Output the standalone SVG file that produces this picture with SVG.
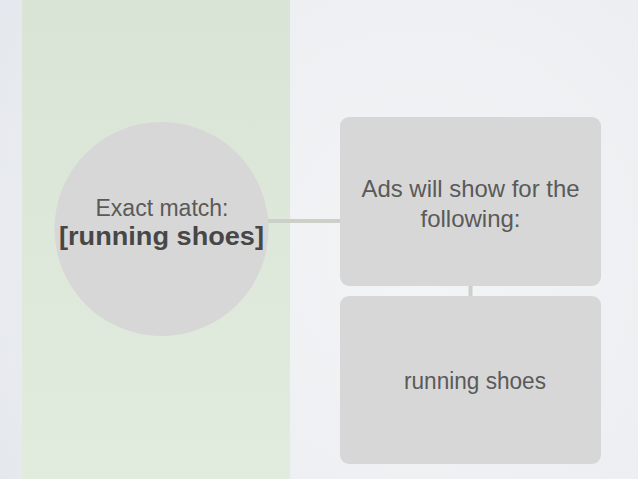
<svg xmlns="http://www.w3.org/2000/svg" width="638" height="479" viewBox="0 0 638 479">
  <defs>
    <radialGradient id="bg" cx="420" cy="250" r="560" gradientUnits="userSpaceOnUse">
      <stop offset="0" stop-color="#f3f4f6"/>
      <stop offset="0.6" stop-color="#eceef1"/>
      <stop offset="1" stop-color="#e0e4eb"/>
    </radialGradient>
    <linearGradient id="green" x1="0" y1="0" x2="0" y2="1">
      <stop offset="0" stop-color="#d9e3d6"/>
      <stop offset="1" stop-color="#e2ecde"/>
    </linearGradient>
    <style>
      .shape { fill: #d7d7d7; }
      .conn { stroke: #cbd0c9; stroke-width: 4; fill: none; }
      .t { font-family: "Liberation Sans", Arial, sans-serif; fill: #5a5a5a; text-anchor: middle; }
      .b { font-family: "Liberation Sans", Arial, sans-serif; fill: #474747; font-weight: bold; text-anchor: middle; }
    </style>
  </defs>
  <rect x="0" y="0" width="638" height="479" fill="url(#bg)"/>
  <rect x="22" y="0" width="268" height="479" fill="url(#green)"/>

  <g id="connectors">
    <line class="conn" x1="266" y1="221" x2="342" y2="221"/>
    <line class="conn" x1="470.5" y1="284" x2="470.5" y2="298"/>
  </g>

  <g id="node-exact">
    <circle class="shape" cx="161.5" cy="229" r="107"/>
    <text class="t" x="162" y="216" font-size="23">Exact match:</text>
    <text class="b" x="161.5" y="245" font-size="25" textLength="205" lengthAdjust="spacingAndGlyphs">[running shoes]</text>
  </g>

  <g id="node-ads">
    <rect class="shape" x="340" y="117" width="261" height="169" rx="9"/>
    <text class="t" x="470.5" y="197" font-size="24" textLength="218" lengthAdjust="spacingAndGlyphs">Ads will show for the</text>
    <text class="t" x="470.5" y="227" font-size="24">following:</text>
  </g>

  <g id="node-running">
    <rect class="shape" x="340" y="296" width="261" height="168" rx="9"/>
    <text class="t" x="475" y="389" font-size="23" textLength="142" lengthAdjust="spacingAndGlyphs">running shoes</text>
  </g>
</svg>
